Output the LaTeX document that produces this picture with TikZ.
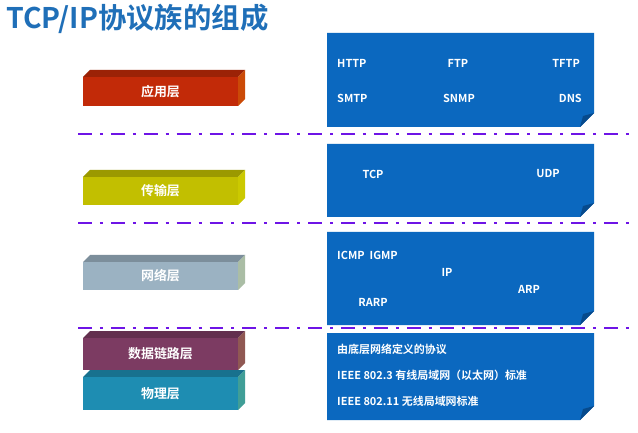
\documentclass[tikz,border=0pt]{standalone}
\usepackage{fontspec}
\setmainfont{Noto Sans CJK SC}[BoldFont={* Bold}]
\begin{document}
\begin{tikzpicture}[x=1bp,y=-1bp,
  lbl/.style={text=white,font=\bfseries\fontsize{11}{12}\selectfont,inner sep=0pt},
  ltxt/.style={text=white,font=\bfseries\fontsize{13}{14}\selectfont},
  sep/.style={draw={rgb,255:red,110;green,20;blue,230},line width=2.6pt,dash pattern=on 14pt off 8pt on 3pt off 8pt}]
\definecolor{bbox}{HTML}{0B68BF}
\definecolor{bfold}{HTML}{074A8C}
\definecolor{tblue}{HTML}{1F6FB8}
\useasboundingbox (0,0) rectangle (638,433);
\fill[white] (0,0) rectangle (638,433);
\node[anchor=west,text=tblue,font=\bfseries\fontsize{28.5}{30}\selectfont,inner sep=0pt] (title) at (6,19) {TCP/IP协议族的组成};
% blue boxes
\foreach \n/\ya/\yb in {b1/33/127,b2/144/217,b3/232/325,b4/333/420}{
  \fill[bbox] (327,\ya) -- (594,\ya) -- (594,\yb-14) -- (580,\yb) -- (327,\yb) -- cycle;
  \fill[bfold] (594,\yb-14) -- (580,\yb) -- (583,\yb-11) -- cycle;
  \coordinate (\n) at (327,\ya);
}
% separators
\coordinate (s1a) at (78,134); \coordinate (s1b) at (630,134);
\coordinate (s2a) at (78,223); \coordinate (s2b) at (630,223);
\coordinate (s3a) at (78,328); \coordinate (s3b) at (630,328);
\draw[sep] (s1a) -- (s1b);
\draw[sep] (s2a) -- (s2b);
\draw[sep] (s3a) -- (s3b);
% layer boxes
\foreach \n/\ya/\yb/\c/\t in {l1/77/106/C22A08/应用层,l2/177/205/C2BF00/传输层,l3/262/290/9BB2C2/网络层,l4/338/370/7C3B62/数据链路层,l5/377/410/1E8DB2/物理层}{
  \definecolor{cc}{HTML}{\c}
  \fill[cc!80!black] (83,\ya) -- (90,\ya-7) -- (245,\ya-7) -- (238,\ya) -- cycle;
  \fill[cc!85!yellow] (238,\ya) -- (245,\ya-7) -- (245,\yb-7) -- (238,\yb) -- cycle;
  \fill[cc] (83,\ya) rectangle (238,\yb);
  \node[ltxt] (\n) at (160.5,{(\ya+\yb)/2}) {\t};
}
% texts
\node[lbl,anchor=west] (http) at (337,63) {HTTP};
\node[lbl] (ftp) at (458,63) {FTP};
\node[lbl,anchor=east] (tftp) at (580,63) {TFTP};
\node[lbl,anchor=west] (smtp) at (337,98) {SMTP};
\node[lbl] (snmp) at (459,98) {SNMP};
\node[lbl,anchor=east] (dns) at (582,98) {DNS};
\node[lbl] (tcp) at (373,174) {TCP};
\node[lbl] (udp) at (548,174) {UDP};
\node[lbl,anchor=west] (icmp) at (337,255) {ICMP\ \ IGMP};
\node[lbl] (ip) at (447,272) {IP};
\node[lbl] (arp) at (529,289) {ARP};
\node[lbl] (rarp) at (373,302) {RARP};
\node[lbl,anchor=west] (d1) at (337,349) {由底层网络定义的协议};
\node[lbl,anchor=west] (d2) at (337,375) {IEEE 802.3 有线局域网（以太网）标准};
\node[lbl,anchor=west] (d3) at (337,401) {IEEE 802.11 无线局域网标准};
\end{tikzpicture}
\end{document}
